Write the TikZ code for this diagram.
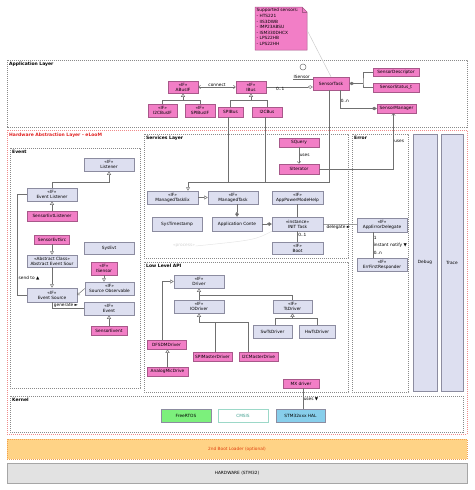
\documentclass[tikz,border=0pt]{standalone}
\usepackage{fontspec}
\setmainfont{DejaVu Sans}
\usetikzlibrary{arrows.meta, calc, shapes.geometric}
\definecolor{umlpink}{HTML}{F27EC6}
\definecolor{pinkline}{HTML}{A8588A}
\definecolor{boxfill}{HTML}{DDDFF0}
\definecolor{boxline}{HTML}{8C8CA0}
\definecolor{pkgline}{HTML}{8A8A8A}
\definecolor{halline}{HTML}{F08A8A}
\definecolor{haltext}{HTML}{E02020}
\definecolor{connline}{HTML}{707070}
\definecolor{rtosfill}{HTML}{7CF07C}
\definecolor{cmsisline}{HTML}{9CD8C8}
\definecolor{cmsistext}{HTML}{40A090}
\definecolor{halfill}{HTML}{87CEEB}
\definecolor{bootfill}{HTML}{FFD386}
\definecolor{bootline}{HTML}{F0A050}
\definecolor{boottext}{HTML}{E04010}
\definecolor{hwfill}{HTML}{E2E2E2}
\newcommand{\boxfont}{\fontsize{4.3}{5}\selectfont}
\newcommand{\titlefont}{\fontsize{4.5}{5}\selectfont\bfseries}
\tikzset{
  box/.style={draw=boxline, fill=boxfill, line width=0.5pt, inner sep=0pt, align=center, font=\boxfont},
  pinkbox/.style={box, draw=pinkline, fill=umlpink},
  pkg/.style={draw=pkgline, dash pattern=on 1.2pt off 0.8pt, line width=0.5pt},
  pkgtitle/.style={anchor=north west, font=\titlefont, inner sep=0pt},
  conn/.style={draw=connline, line width=0.5pt},
  gen/.style={conn, -{Triangle[open, length=3.5pt, width=4pt]}},
  comp/.style={conn, -{Diamond[length=5pt, width=3.5pt]}},
  dep/.style={conn, -{Straight Barb[length=2pt, width=3.5pt]}},
  lbl/.style={font=\boxfont, inner sep=0.5pt},
}

\begin{document}
\begin{tikzpicture}[x=1pt, y=-1pt]
  \useasboundingbox (0,0) rectangle (474,490);
  % packages
  \draw[pkg] (7,60) rectangle (467,127);
  \node[pkgtitle] (apptitle) at (9,62) {Application Layer};
  \draw[draw=halline, dash pattern=on 1pt off 1pt, line width=0.6pt] (7,130) rectangle (467,434);
  \node[pkgtitle, text=haltext] (haltitle) at (9,133) {Hardware Abstraction Layer - eLooM};
  \draw[pkg] (10,148) rectangle (140,388);
  \node[pkgtitle] (evttitle) at (12,150) {Event};
  \draw[pkg] (144,134) rectangle (348,258);
  \node[pkgtitle] (srvtitle) at (146,136) {Services Layer};
  \draw[pkg] (144,262) rectangle (348,392);
  \node[pkgtitle] (lltitle) at (146,264) {Low Level API};
  \draw[pkg] (352,134) rectangle (408,392);
  \node[pkgtitle] (errtitle) at (354,136) {Error};
  \draw[pkg] (10,396) rectangle (463,432);
  \node[pkgtitle] (kerntitle) at (12,398) {Kernel};

  % note
  \draw[draw=pinkline, fill=umlpink, line width=0.5pt] (255,7) -- (302,7) -- (307,12) -- (307,50) -- (255,50) -- cycle;
  \draw[draw=pinkline, line width=0.5pt] (302,7) -- (302,12) -- (307,12);
  \node[anchor=north west, align=left, font=\fontsize{4.3}{5.6}\selectfont, inner sep=0pt] (note) at (256.5,8.5)
    {Supported sensors:\\- HTS221\\- IIS3DWB\\- IMP23ABSU\\- ISM330DHCX\\- LPS22HB\\- LPS22HH};
  \coordinate (notecorner) at (307,30);

  % application layer
  \node[pinkbox, minimum width=30, minimum height=12] (abusif) at (183,87) {«IF»\\ABusIF};
  \node[pinkbox, minimum width=30, minimum height=12] (ibus) at (251,87) {«IF»\\IBus};
  \node[pinkbox, minimum width=29, minimum height=13] (i2cbusif) at (162.5,110.5) {«IF»\\I2CBusIF};
  \node[pinkbox, minimum width=30, minimum height=13] (spibusif) at (200,110.5) {«IF»\\SPIBusIF};
  \node[pinkbox, minimum width=25, minimum height=10] (spibus) at (230.5,112) {SPIBus};
  \node[pinkbox, minimum width=30, minimum height=10] (i2cbus) at (267,112) {I2CBus};
  \node[pinkbox, minimum width=36, minimum height=13] (sensortask) at (331,83.5) {SensorTask};
  \node[pinkbox, minimum width=46, minimum height=8] (sensordesc) at (396,72) {SensorDescriptor};
  \node[pinkbox, minimum width=46, minimum height=9] (sensorstatus) at (396,87.5) {SensorStatus\_t};
  \node[pinkbox, minimum width=39, minimum height=9] (sensormgr) at (396.5,108.5) {SensorManager};
  \node[circle, draw=connline, fill=white, line width=0.5pt, minimum size=6, inner sep=0pt] (isensorport) at (303,67) {};
  \node[lbl, anchor=south west] (isensorlbl) at (293,79) {ISensor};

  \draw[conn, {Straight Barb[length=2pt, width=3.5pt]}-{Straight Barb[length=2pt, width=3.5pt]}] (abusif) -- node[lbl, above] {connect} (ibus);
  \coordinate (abar) at (183,100);
  \draw[gen] (i2cbusif.north) |- (abar) -- (abusif.south);
  \draw[conn] (spibusif.north) |- (abar);
  \coordinate (ibar) at (251,100);
  \draw[gen] (spibus.north) |- (ibar) -- (ibus.south);
  \draw[conn] (i2cbus.north) |- (ibar);
  \draw[conn, -{Diamond[open, length=5pt, width=3.5pt]}] (ibus.east) -- node[lbl, below, pos=0.3] {0..1} (ibus.east -| sensortask.west);
  \draw[conn] (isensorlbl.south west) -- (isensorlbl.south west -| sensortask.west);
  \draw[conn, draw=gray!40] (notecorner) -- (sensortask.north);
  \coordinate (stjoin) at (363,83.5);
  \draw[conn, {Diamond[length=5pt, width=3.5pt]}-] (sensortask.east) -- (stjoin);
  \draw[conn] (sensordesc.west) -| (stjoin) |- (sensorstatus.west);
  \draw[comp] ([xshift=9]sensortask.south) |- node[lbl, right, pos=0.3] {0..n} (sensormgr.west);

  % event
  \node[box, minimum width=50, minimum height=13] (listener) at (109,164.5) {«IF»\\Listener};
  \node[box, minimum width=50, minimum height=13] (evtlistener) at (52,194.5) {«IF»\\Event Listener};
  \node[pinkbox, minimum width=50, minimum height=10] (sensorevtlistener) at (52,216) {SensorEvtListener};
  \node[pinkbox, minimum width=35, minimum height=9] (sensorevtsrc) at (52,239.5) {SensorEvtSrc};
  \node[box, minimum width=50, minimum height=12] (sysevt) at (109,248) {SysEvt};
  \node[box, minimum width=50, minimum height=12] (abstractsrc) at (52,261) {«Abstract Class»\\Abstract Event Sour};
  \node[pinkbox, minimum width=26, minimum height=13] (isensor) at (104,268.5) {«IF»\\ISensor};
  \node[box, minimum width=49, minimum height=13] (srcobs) at (109.5,288.5) {«IF»\\Source Observable};
  \node[box, minimum width=50, minimum height=14] (evtsource) at (52,295) {«IF»\\Event Source};
  \node[box, minimum width=50, minimum height=13] (event) at (109,308.5) {«IF»\\Event};
  \node[pinkbox, minimum width=36, minimum height=9] (sensorevent) at (109,330.5) {SensorEvent};

  \coordinate (lbar) at (109,182);
  \draw[gen] (evtlistener.north) |- (lbar) -- (listener.south);
  \draw[gen] (sensorevtlistener) -- (evtlistener);
  \draw[gen] (sensorevtsrc) -- (abstractsrc);
  \draw[gen] (abstractsrc) -- (evtsource);
  \draw[gen] (isensor.south) -- (isensor.south |- srcobs.north);
  \draw[dep] (srcobs.west) -- (evtsource.east);
  \draw[conn] (evtlistener.west) -- ++(-10,0) |- (evtsource.west);
  \node[lbl, anchor=west] (sendlbl) at (18,278) {send to ▲};
  \draw[conn] (evtsource.south) |- node[lbl, above, pos=0.72] {generate ►} (event.west);
  \draw[gen] (sensorevent) -- (event);

  % services layer
  \node[pinkbox, minimum width=40, minimum height=9] (squery) at (299,142.5) {SQuery};
  \node[pinkbox, minimum width=40, minimum height=10] (siterator) at (299,169) {SIterator};
  \node[box, minimum width=51, minimum height=13] (mtaskex) at (172.5,197.5) {«IF»\\ManagedTaskEx};
  \node[box, minimum width=50, minimum height=13] (mtask) at (233,197.5) {«IF»\\ManagedTask};
  \node[box, minimum width=51, minimum height=13] (apppower) at (297.5,197.5) {«IF»\\AppPowerModeHelp};
  \node[box, minimum width=50, minimum height=14] (systs) at (177,224) {SysTimestamp};
  \node[box, minimum width=50, minimum height=14] (appctx) at (237,224) {Application Conte};
  \node[box, minimum width=51, minimum height=14] (inittask) at (297.5,224) {«instance»\\INIT Task};
  \node[box, minimum width=51, minimum height=12] (boot) at (297.5,248) {«IF»\\Boot};
  \node[lbl, text=gray!35] (proclbl) at (184,246) {«process»};

  \draw[dep] (squery) -- node[lbl, right] {uses} (siterator);
  \draw[dep] (siterator.east) -| node[lbl, right, pos=0.75] {uses} ([xshift=-3]sensormgr.south);
  \coordinate (mbar) at (188,182);
  \draw[gen] ([xshift=-1.5]sensortask.south) |- (mbar) -- (mbar |- mtaskex.north);
  \draw[conn] ([xshift=-2]spibus.south) -- ([xshift=-2]spibus.south |- mbar);
  \draw[conn] ([xshift=-2]i2cbus.south) -- ([xshift=-2]i2cbus.south |- mbar);
  \draw[gen] (mtaskex) -- (mtask);
  \draw[comp] (mtask.south -| appctx.north) -- (appctx.north);
  \draw[comp] (appctx) -- (inittask);
  \draw[conn] (apppower) -- (inittask);
  \draw[conn] (inittask) -- node[lbl, right, pos=0.35] {0..1} (boot);
  \draw[conn, draw=gray!20] (inittask.south west) .. controls (255,240) .. (proclbl.east);

  % error
  \node[box, minimum width=50, minimum height=14] (apperrdel) at (382,225) {«IF»\\AppErrorDelegate};
  \node[box, minimum width=50, minimum height=13] (errfirst) at (382,264.5) {«IF»\\ErrFirstResponder};
  \node[box, minimum width=24, minimum height=257] (debug) at (425,262.5) {Debug};
  \node[box, minimum width=22, minimum height=257] (trace) at (452,262.5) {Trace};

  \draw[conn] (inittask) -- node[lbl, below, pos=0.45] {delegate ►} (apperrdel);
  \draw[conn] ([xshift=-9]apperrdel.south) -- node[lbl, right, pos=0.22] {1}
    node[lbl, right, pos=0.5] {instant notify ▼}
    node[lbl, right, pos=0.8] {0..n} ([xshift=-9]errfirst.north);

  % low level api
  \node[box, minimum width=50, minimum height=13] (driver) at (199,281.5) {«IF»\\Driver};
  \node[box, minimum width=50, minimum height=13] (iodriver) at (199,306.5) {«IF»\\IODriver};
  \node[box, minimum width=39, minimum height=13] (tsdriver) at (292.5,306.5) {«IF»\\TsDriver};
  \node[box, minimum width=39, minimum height=13] (swts) at (272.5,331.5) {SwTsDriver};
  \node[box, minimum width=36, minimum height=13] (hwts) at (317,331.5) {HwTsDriver};
  \node[pinkbox, minimum width=39, minimum height=9] (dfsdm) at (166.5,344.5) {DFSDMDriver};
  \node[pinkbox, minimum width=39, minimum height=9] (spimaster) at (212.5,356.5) {SPIMasterDriver};
  \node[pinkbox, minimum width=39, minimum height=9] (i2cmaster) at (258.5,356.5) {I2CMasterDrive};
  \node[pinkbox, minimum width=41, minimum height=9] (analogmic) at (167.5,371.5) {AnalogMicDrive};
  \node[pinkbox, minimum width=36, minimum height=9] (mxdriver) at (301,383.5) {MX driver};

  \coordinate (dbar) at (199,295);
  \draw[gen] (tsdriver.north) |- (dbar) -- (driver.south);
  \draw[conn] (iodriver.north) -- (dbar);
  \draw[gen] ([xshift=-4]dfsdm.north) |- (driver.west);
  \draw[gen] (analogmic.north) -- (analogmic.north |- dfsdm.south);
  \coordinate (iobar) at (199,322);
  \draw[gen] ([xshift=-10]i2cmaster.north) |- (iobar) -- (iodriver.south);
  \draw[conn] ([xshift=3]spimaster.north) -- ([xshift=3]spimaster.north |- iobar);
  \coordinate (tsbar) at (292.5,318);
  \draw[gen] ([xshift=3]swts.north) |- (tsbar) -- (tsdriver.south);
  \draw[conn] (hwts.north) |- (tsbar);

  % kernel
  \node[box, fill=rtosfill, minimum width=50, minimum height=13] (freertos) at (186,415.5) {FreeRTOS};
  \node[box, draw=cmsisline, fill=white, text=cmsistext, minimum width=50, minimum height=13] (cmsis) at (243,415.5) {CMSIS};
  \node[box, fill=halfill, minimum width=49, minimum height=13] (stmhal) at (300.5,415.5) {STM32xxx HAL};
  \draw[conn] ([xshift=2]mxdriver.south) -- node[lbl, right, pos=0.55] {uses ▼} ([xshift=2]mxdriver.south |- stmhal.north);

  % boot loader and hardware
  \node[box, draw=bootline, fill=bootfill, text=boottext, dash pattern=on 1pt off 1pt, minimum width=460, minimum height=20] (bootldr) at (237,449) {2nd Boot Loader (optional)};
  \node[box, draw=gray!70, fill=hwfill, line width=0.8pt, minimum width=460, minimum height=20] (hardware) at (237,473) {HARDWARE (STM32)};
\end{tikzpicture}
\end{document}
